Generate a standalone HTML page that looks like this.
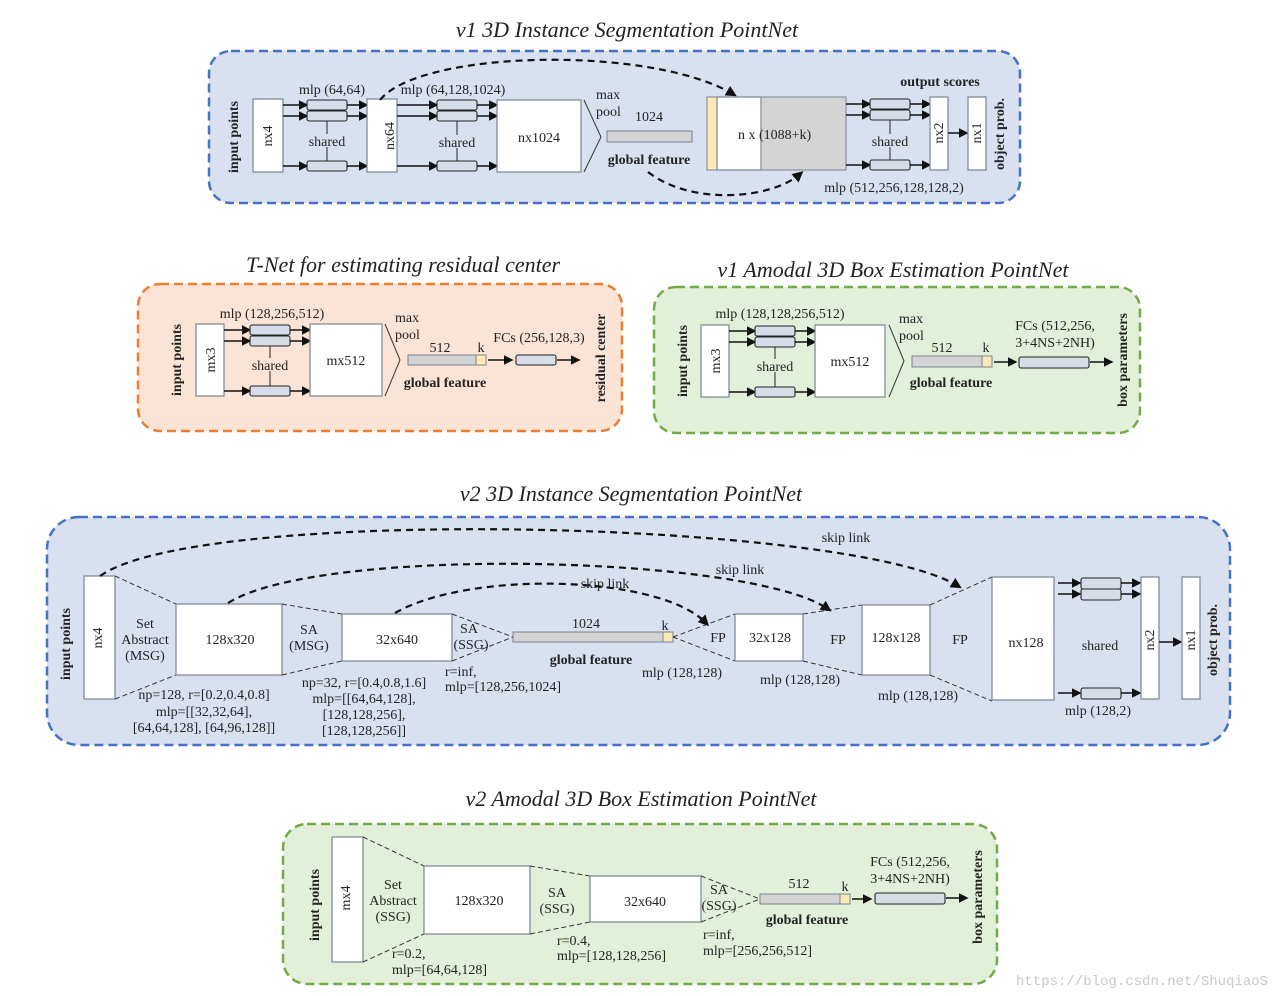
<!DOCTYPE html>
<html><head><meta charset="utf-8"><style>
body{margin:0;background:#fff}
svg{display:block}
text{font-family:"Liberation Serif",serif;font-size:14px;fill:#222}
.t{font-size:22px;font-style:italic;text-anchor:middle}
.b{font-weight:bold}
.m{text-anchor:middle}
.bx{fill:#fff;stroke:#7a8494;stroke-width:1.2}
.mb{fill:#d6dde8;stroke:#222;stroke-width:1.1}
.ar{stroke:#111;stroke-width:1.6;marker-end:url(#ah)}
.dl{stroke:#333;stroke-width:1;stroke-dasharray:5,3;fill:none}
.sk{stroke:#111;stroke-width:2.2;stroke-dasharray:7,5;fill:none;marker-end:url(#ah2)}
</style></head><body>
<svg width="1272" height="996" viewBox="0 0 1272 996" xmlns="http://www.w3.org/2000/svg">
<defs>
<marker id="ah" markerWidth="6" markerHeight="6" refX="5" refY="3" orient="auto"><path d="M0,0 L6,3 L0,6 z" fill="#111"/></marker>
<marker id="ah2" markerWidth="5" markerHeight="5" refX="3" refY="2.5" orient="auto"><path d="M0,0 L5,2.5 L0,5 z" fill="#111"/></marker>
</defs>

<!-- Panel 1 -->
<text class="t" x="627" y="37">v1 3D Instance Segmentation PointNet</text>
<rect x="209" y="51" width="811" height="152" rx="22" fill="#d9e1f1" stroke="#4472c4" stroke-width="2.5" stroke-dasharray="9,5"/>
<text class="b m" transform="translate(238,137) rotate(-90)">input points</text>
<rect class="bx" x="253" y="99" width="30" height="73"/>
<text class="m" transform="translate(272,136) rotate(-90)">nx4</text>
<text class="m" x="332" y="94">mlp (64,64)</text>
<line class="ar" x1="283" y1="105" x2="307" y2="105"/><line class="ar" x1="283" y1="116" x2="307" y2="116"/><line class="ar" x1="283" y1="166" x2="307" y2="166"/>
<rect class="mb" x="307" y="100" width="40" height="10" rx="2"/><rect class="mb" x="307" y="111" width="40" height="10" rx="2"/><rect class="mb" x="307" y="161" width="40" height="10" rx="2"/>
<line x1="327" y1="121" x2="327" y2="161" stroke="#222"/>
<rect x="305" y="134" width="44" height="13" fill="#d9e1f1"/><text class="m" x="327" y="146">shared</text>
<line class="ar" x1="347" y1="105" x2="367" y2="105"/><line class="ar" x1="347" y1="116" x2="367" y2="116"/><line class="ar" x1="347" y1="166" x2="367" y2="166"/>
<rect class="bx" x="367" y="99" width="30" height="73"/>
<text class="m" transform="translate(394,136) rotate(-90)">nx64</text>
<text class="m" x="453" y="94">mlp (64,128,1024)</text>
<line class="ar" x1="397" y1="105" x2="437" y2="105"/><line class="ar" x1="397" y1="116" x2="437" y2="116"/><line class="ar" x1="397" y1="166" x2="437" y2="166"/>
<rect class="mb" x="437" y="100" width="40" height="10" rx="2"/><rect class="mb" x="437" y="111" width="40" height="10" rx="2"/><rect class="mb" x="437" y="161" width="40" height="10" rx="2"/>
<line x1="457" y1="121" x2="457" y2="161" stroke="#222"/>
<rect x="435" y="135" width="44" height="13" fill="#d9e1f1"/><text class="m" x="457" y="147">shared</text>
<line class="ar" x1="477" y1="105" x2="497" y2="105"/><line class="ar" x1="477" y1="116" x2="497" y2="116"/><line class="ar" x1="477" y1="166" x2="497" y2="166"/>
<rect class="bx" x="497" y="100" width="84" height="72"/>
<text class="m" x="539" y="142">nx1024</text>
<polyline points="584,100 601,137 584,172" fill="none" stroke="#333"/>
<text x="596" y="99">max</text><text x="596" y="116">pool</text>
<text class="m" x="649" y="121">1024</text>
<rect x="607" y="131" width="85" height="11" fill="#d4d4d4" stroke="#7a8494"/>
<text class="b m" x="649" y="164">global feature</text>
<rect x="707" y="97" width="10" height="73" fill="#fde9b6" stroke="#7a8494"/>
<rect class="bx" x="717" y="97" width="44" height="73"/>
<rect x="761" y="97" width="85" height="73" fill="#d4d4d4" stroke="#7a8494"/>
<text x="738" y="139">n  x (1088+k)</text>
<path class="sk" d="M380,100 C420,50 650,45 733,94"/>
<path class="sk" d="M648,172 C690,205 770,200 800,174"/>
<line class="ar" x1="846" y1="104" x2="870" y2="104"/><line class="ar" x1="846" y1="115" x2="870" y2="115"/><line class="ar" x1="846" y1="165" x2="870" y2="165"/>
<rect class="mb" x="870" y="99" width="40" height="10" rx="2"/><rect class="mb" x="870" y="110" width="40" height="10" rx="2"/><rect class="mb" x="870" y="160" width="40" height="10" rx="2"/>
<line x1="890" y1="120" x2="890" y2="160" stroke="#222"/>
<rect x="868" y="134" width="44" height="13" fill="#d9e1f1"/><text class="m" x="890" y="146">shared</text>
<line class="ar" x1="910" y1="104" x2="930" y2="104"/><line class="ar" x1="910" y1="115" x2="930" y2="115"/><line class="ar" x1="910" y1="165" x2="930" y2="165"/>
<rect class="bx" x="930" y="97" width="18" height="73"/>
<text class="m" transform="translate(943,133) rotate(-90)">nx2</text>
<line class="ar" x1="948" y1="133" x2="967" y2="133"/>
<rect class="bx" x="968" y="97" width="18" height="73"/>
<text class="m" transform="translate(981,133) rotate(-90)">nx1</text>
<text class="b m" transform="translate(1004,134) rotate(-90)">object prob.</text>
<text class="b m" x="940" y="86">output scores</text>
<text class="m" x="894" y="192">mlp (512,256,128,128,2)</text>

<!-- Panel 2 -->
<text class="t" x="403" y="272">T-Net for estimating residual center</text>
<rect x="138" y="284" width="484" height="147" rx="22" fill="#fbe4d6" stroke="#ed7d31" stroke-width="2.5" stroke-dasharray="9,5"/>
<text class="b m" transform="translate(181,360) rotate(-90)">input points</text>
<rect class="bx" x="196" y="324" width="28" height="72"/>
<text class="m" transform="translate(215,360) rotate(-90)">mx3</text>
<text class="m" x="272" y="318">mlp (128,256,512)</text>
<line class="ar" x1="224" y1="330" x2="250" y2="330"/><line class="ar" x1="224" y1="341" x2="250" y2="341"/><line class="ar" x1="224" y1="391" x2="250" y2="391"/>
<rect class="mb" x="250" y="325" width="40" height="10" rx="2" fill="#f6d1b8"/><rect class="mb" x="250" y="336" width="40" height="10" rx="2" fill="#f6d1b8"/><rect class="mb" x="250" y="386" width="40" height="10" rx="2" fill="#f6d1b8"/>
<line x1="270" y1="346" x2="270" y2="386" stroke="#222"/>
<rect x="248" y="358" width="44" height="13" fill="#fbe4d6"/><text class="m" x="270" y="370">shared</text>
<line class="ar" x1="290" y1="330" x2="310" y2="330"/><line class="ar" x1="290" y1="341" x2="310" y2="341"/><line class="ar" x1="290" y1="391" x2="310" y2="391"/>
<rect class="bx" x="310" y="324" width="72" height="72"/>
<text class="m" x="346" y="365">mx512</text>
<polyline points="385,324 400,360 385,396" fill="none" stroke="#333"/>
<text x="395" y="322">max</text><text x="395" y="339">pool</text>
<text class="m" x="440" y="352">512</text><text class="m" x="481" y="352">k</text>
<rect x="408" y="355" width="68" height="10" fill="#d4d4d4" stroke="#7a8494"/>
<rect x="476" y="355" width="10" height="10" fill="#fde9b6" stroke="#7a8494"/>
<text class="b m" x="445" y="387">global feature</text>
<line class="ar" x1="488" y1="360" x2="512" y2="360"/>
<text class="m" x="539" y="342">FCs (256,128,3)</text>
<rect class="mb" x="516" y="355" width="40" height="10" rx="2" fill="#fbe4d6"/>
<line class="ar" x1="557" y1="360" x2="579" y2="360"/>
<text class="b m" transform="translate(605,358) rotate(-90)">residual center</text>

<!-- Panel 3 -->
<text class="t" x="893" y="277">v1 Amodal 3D Box Estimation PointNet</text>
<rect x="654" y="287" width="486" height="146" rx="22" fill="#e2efd9" stroke="#70ad47" stroke-width="2.5" stroke-dasharray="9,5"/>
<text class="b m" transform="translate(687,361) rotate(-90)">input points</text>
<rect class="bx" x="701" y="325" width="28" height="72"/>
<text class="m" transform="translate(720,361) rotate(-90)">mx3</text>
<text class="m" x="780" y="318">mlp (128,128,256,512)</text>
<line class="ar" x1="729" y1="331" x2="755" y2="331"/><line class="ar" x1="729" y1="342" x2="755" y2="342"/><line class="ar" x1="729" y1="392" x2="755" y2="392"/>
<rect class="mb" x="755" y="326" width="40" height="10" rx="2" fill="#d3e6c6"/><rect class="mb" x="755" y="337" width="40" height="10" rx="2" fill="#d3e6c6"/><rect class="mb" x="755" y="387" width="40" height="10" rx="2" fill="#d3e6c6"/>
<line x1="775" y1="347" x2="775" y2="387" stroke="#222"/>
<rect x="753" y="359" width="44" height="13" fill="#e2efd9"/><text class="m" x="775" y="371">shared</text>
<line class="ar" x1="795" y1="331" x2="815" y2="331"/><line class="ar" x1="795" y1="342" x2="815" y2="342"/><line class="ar" x1="795" y1="392" x2="815" y2="392"/>
<rect class="bx" x="815" y="325" width="70" height="72"/>
<text class="m" x="850" y="366">mx512</text>
<polyline points="889,325 904,361 889,397" fill="none" stroke="#333"/>
<text x="899" y="323">max</text><text x="899" y="340">pool</text>
<text class="m" x="942" y="352">512</text><text class="m" x="986" y="352">k</text>
<rect x="912" y="356" width="70" height="11" fill="#d4d4d4" stroke="#7a8494"/>
<rect x="982" y="356" width="10" height="11" fill="#fde9b6" stroke="#7a8494"/>
<text class="b m" x="951" y="387">global feature</text>
<line class="ar" x1="994" y1="362" x2="1016" y2="362"/>
<text class="m" x="1055" y="330">FCs (512,256,</text><text class="m" x="1055" y="347">3+4NS+2NH)</text>
<rect class="mb" x="1019" y="357" width="70" height="11" rx="2" fill="#e2efd9"/>
<line class="ar" x1="1090" y1="362" x2="1112" y2="362"/>
<text class="b m" transform="translate(1127,360) rotate(-90)">box parameters</text>

<!-- Panel 4 -->
<text class="t" x="631" y="501">v2 3D Instance Segmentation PointNet</text>
<rect x="47" y="517" width="1183" height="228" rx="32" fill="#d9e1f1" stroke="#4472c4" stroke-width="2.5" stroke-dasharray="9,5"/>
<text class="b m" transform="translate(70,644) rotate(-90)">input points</text>
<rect class="bx" x="84" y="576" width="31" height="123"/>
<text class="m" transform="translate(102,638) rotate(-90)">nx4</text>
<line class="dl" x1="115" y1="576" x2="176" y2="604"/><line class="dl" x1="115" y1="699" x2="176" y2="675"/>
<text class="m" x="145" y="628">Set</text><text class="m" x="145" y="644">Abstract</text><text class="m" x="145" y="660">(MSG)</text>
<rect class="bx" x="176" y="604" width="106" height="71"/>
<text class="m" x="230" y="644">128x320</text>
<line class="dl" x1="282" y1="604" x2="342" y2="614"/><line class="dl" x1="282" y1="675" x2="342" y2="661"/>
<text class="m" x="309" y="634">SA</text><text class="m" x="309" y="650">(MSG)</text>
<rect class="bx" x="342" y="614" width="110" height="47"/>
<text class="m" x="397" y="644">32x640</text>
<line class="dl" x1="452" y1="614" x2="513" y2="637"/><line class="dl" x1="452" y1="661" x2="513" y2="637"/>
<text class="m" x="469" y="633">SA</text><text class="m" x="471" y="649">(SSG)</text>
<rect x="513" y="632" width="150" height="10" fill="#d4d4d4" stroke="#7a8494"/>
<rect x="663" y="632" width="10" height="10" fill="#fde9b6" stroke="#7a8494"/>
<text class="m" x="586" y="628">1024</text><text class="m" x="665" y="630">k</text>
<text class="b m" x="591" y="664">global feature</text>
<text x="445" y="676">r=inf,</text><text x="445" y="691">mlp=[128,256,1024]</text>
<text class="m" x="204" y="699">np=128, r=[0.2,0.4,0.8]</text>
<text class="m" x="204" y="716">mlp=[[32,32,64],</text>
<text class="m" x="204" y="732">[64,64,128], [64,96,128]]</text>
<text class="m" x="364" y="687">np=32, r=[0.4,0.8,1.6]</text>
<text class="m" x="364" y="703">mlp=[[64,64,128],</text>
<text class="m" x="364" y="719">[128,128,256],</text>
<text class="m" x="364" y="735">[128,128,256]]</text>
<line class="dl" x1="673" y1="637" x2="735" y2="614"/><line class="dl" x1="673" y1="637" x2="735" y2="661"/>
<text class="m" x="718" y="642">FP</text>
<rect class="bx" x="735" y="614" width="68" height="47"/>
<text class="m" x="770" y="642">32x128</text>
<text class="m" x="682" y="677">mlp (128,128)</text>
<line class="dl" x1="803" y1="614" x2="862" y2="605"/><line class="dl" x1="803" y1="661" x2="862" y2="675"/>
<text class="m" x="838" y="644">FP</text>
<rect class="bx" x="862" y="605" width="68" height="70"/>
<text class="m" x="896" y="642">128x128</text>
<text class="m" x="800" y="684">mlp (128,128)</text>
<line class="dl" x1="930" y1="605" x2="992" y2="577"/><line class="dl" x1="930" y1="675" x2="992" y2="701"/>
<text class="m" x="960" y="644">FP</text>
<rect class="bx" x="992" y="577" width="62" height="123"/>
<text class="m" x="1026" y="647">nx128</text>
<text class="m" x="918" y="700">mlp (128,128)</text>
<path class="sk" d="M100,576 C200,505 850,520 958,586"/>
<path class="sk" d="M228,603 C320,545 750,555 828,609"/>
<path class="sk" d="M395,613 C470,570 660,575 706,623"/>
<text class="m" x="846" y="542">skip link</text>
<text class="m" x="740" y="574">skip link</text>
<text class="m" x="605" y="588">skip link</text>
<line class="ar" x1="1058" y1="583" x2="1080" y2="583"/><line class="ar" x1="1058" y1="594" x2="1080" y2="594"/><line class="ar" x1="1058" y1="693" x2="1080" y2="693"/>
<rect class="mb" x="1081" y="578" width="40" height="11" rx="2"/><rect class="mb" x="1081" y="589" width="40" height="11" rx="2"/><rect class="mb" x="1081" y="688" width="40" height="11" rx="2"/>
<text class="m" x="1100" y="650">shared</text>
<line class="ar" x1="1121" y1="583" x2="1140" y2="583"/><line class="ar" x1="1121" y1="594" x2="1140" y2="594"/><line class="ar" x1="1121" y1="693" x2="1140" y2="693"/>
<rect class="bx" x="1141" y="577" width="18" height="122"/>
<text class="m" transform="translate(1154,640) rotate(-90)">nx2</text>
<line class="ar" x1="1159" y1="642" x2="1181" y2="642"/>
<rect class="bx" x="1182" y="577" width="18" height="122"/>
<text class="m" transform="translate(1195,640) rotate(-90)">nx1</text>
<text class="b m" transform="translate(1217,640) rotate(-90)">object prob.</text>
<text class="m" x="1098" y="715">mlp (128,2)</text>

<!-- Panel 5 -->
<text class="t" x="641" y="806">v2 Amodal 3D Box Estimation PointNet</text>
<rect x="283" y="824" width="714" height="160" rx="24" fill="#e2efd9" stroke="#70ad47" stroke-width="2.5" stroke-dasharray="9,5"/>
<text class="b m" transform="translate(319,905) rotate(-90)">input points</text>
<rect class="bx" x="332" y="837" width="31" height="125"/>
<text class="m" transform="translate(350,898) rotate(-90)">mx4</text>
<line class="dl" x1="363" y1="837" x2="424" y2="866"/><line class="dl" x1="363" y1="962" x2="424" y2="934"/>
<text class="m" x="393" y="889">Set</text><text class="m" x="393" y="905">Abstract</text><text class="m" x="393" y="921">(SSG)</text>
<rect class="bx" x="424" y="866" width="106" height="68"/>
<text class="m" x="479" y="905">128x320</text>
<line class="dl" x1="530" y1="866" x2="590" y2="876"/><line class="dl" x1="530" y1="934" x2="590" y2="922"/>
<text class="m" x="557" y="897">SA</text><text class="m" x="557" y="913">(SSG)</text>
<rect class="bx" x="590" y="876" width="111" height="46"/>
<text class="m" x="645" y="906">32x640</text>
<line class="dl" x1="701" y1="876" x2="760" y2="899"/><line class="dl" x1="701" y1="922" x2="760" y2="899"/>
<text class="m" x="719" y="894">SA</text><text class="m" x="719" y="910">(SSG)</text>
<rect x="760" y="894" width="80" height="10" fill="#d4d4d4" stroke="#7a8494"/>
<rect x="840" y="894" width="10" height="10" fill="#fde9b6" stroke="#7a8494"/>
<text class="m" x="799" y="888">512</text><text class="m" x="845" y="891">k</text>
<text class="b m" x="807" y="924">global feature</text>
<line class="ar" x1="852" y1="899" x2="871" y2="899"/>
<text class="m" x="910" y="866">FCs (512,256,</text><text class="m" x="910" y="883">3+4NS+2NH)</text>
<rect class="mb" x="875" y="893" width="70" height="11" rx="2" fill="#e2efd9"/>
<line class="ar" x1="946" y1="898" x2="967" y2="898"/>
<text class="b m" transform="translate(982,897) rotate(-90)">box parameters</text>
<text x="392" y="958">r=0.2,</text><text x="392" y="974">mlp=[64,64,128]</text>
<text x="557" y="945">r=0.4,</text><text x="557" y="960">mlp=[128,128,256]</text>
<text x="703" y="939">r=inf,</text><text x="703" y="955">mlp=[256,256,512]</text>
<text x="1016" y="985" style="font-family:'Liberation Mono',monospace;font-size:14px;fill:#c8c8c8">https://blog.csdn.net/ShuqiaoS</text>
</svg>
</body></html>
